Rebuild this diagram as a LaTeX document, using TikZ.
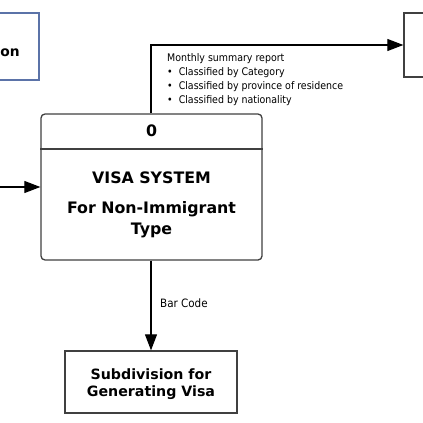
\documentclass[tikz,border=0pt]{standalone}
\usepackage{fontspec}
\setmainfont{DejaVu Sans}
\newfontfamily\condfont{DejaVu Sans Condensed}
\usetikzlibrary{arrows.meta}
\definecolor{edge}{HTML}{404040}
\definecolor{blueedge}{HTML}{5B73A8}
\tikzset{
  box/.style={draw=edge, line width=1.3pt, fill=white, inner sep=0pt, align=center},
  flow/.style={draw=black, line width=1.1pt, -{Triangle[length=16pt,width=12pt]}},
  bigtext/.style={font=\bfseries\fontsize{15.8}{20}\selectfont, align=center},
  subtext/.style={font=\bfseries\fontsize{14.2}{18}\selectfont, align=center},
  smalltext/.style={font=\condfont\fontsize{10.5}{14}\selectfont, align=left, inner sep=0pt, anchor=north west},
}
\begin{document}
\begin{tikzpicture}[x=1pt,y=-1pt]
\useasboundingbox (0,0) rectangle (423,423);
% boxes
\node[box, draw=blueedge, minimum width=60pt, minimum height=67pt] (ext1) at (9,46.5) {};
\node[font=\bfseries\fontsize{13.8}{16}\selectfont, anchor=east, inner sep=0pt] (ext1t) at (20,53) {on};
\node[box, minimum width=40pt, minimum height=64pt] (ext2) at (424,45) {};
\node[box, rounded corners=4pt, minimum width=221pt, minimum height=146pt] (main) at (151.5,187) {};
\draw[edge, line width=1.3pt] (main.west |- 0,149) coordinate (dl) -- (main.east |- 0,149) coordinate (dr);
\node[bigtext] (num) at (151.5,131) {0};
\node[bigtext, font=\bfseries\fontsize{15.8}{30}\selectfont] (title) at (151.5,205) {VISA SYSTEM\\For Non-Immigrant\\[-9pt]Type};
\node[box, minimum width=172pt, minimum height=62pt] (sub) at (151,382) {};
\node[subtext] (subt) at (151,384) {Subdivision for\\[-1pt]Generating Visa};
% connectors
\coordinate (lin) at (-2,187);
\draw[flow] (lin) -- (main.west);
\draw[flow] (main.north -| 151,0) |- (ext2.west);
\draw[flow] (main.south -| 151,0) -- (sub.north -| 151,0);
% labels
\node[smalltext] (report) at (167,53.5) {Monthly summary report\\
  \textbullet\hspace{6pt}Classified by Category\\
  \textbullet\hspace{6pt}Classified by province of residence\\
  \textbullet\hspace{6pt}Classified by nationality};
\node[font=\condfont\fontsize{11.5}{12}\selectfont, anchor=west, inner sep=0pt] (bc) at (160,303) {Bar Code};
\end{tikzpicture}
\end{document}
